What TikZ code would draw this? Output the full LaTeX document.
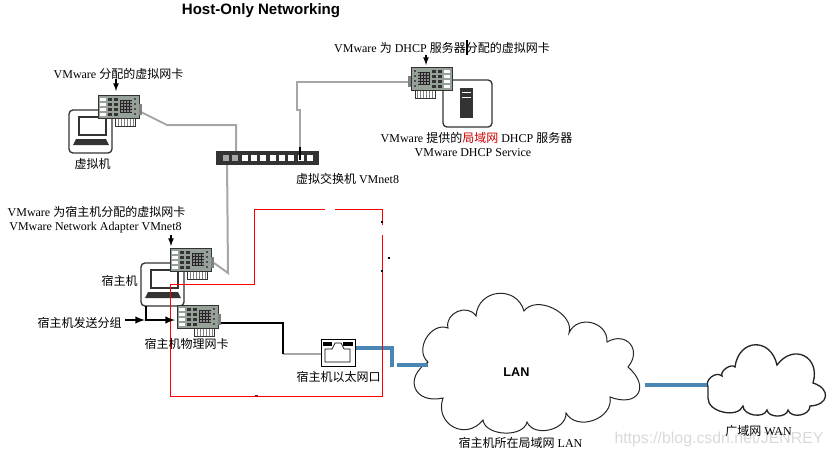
\documentclass[tikz,border=0pt]{standalone}
\usepackage{fontspec}
\setmainfont{Liberation Serif}
\setsansfont{Liberation Sans}
\newfontfamily\cjk{Noto Sans CJK SC}
\definecolor{cardgray}{HTML}{96A298}
\definecolor{linkgray}{HTML}{A6A6A6}
\definecolor{linkblue}{HTML}{4A86B4}
\definecolor{darkbox}{HTML}{333333}
\tikzset{
  x=0.75pt, y=-0.75pt,
  label/.style={inner sep=0pt, font=\fontsize{9}{10}\selectfont},
  graylink/.style={linkgray, line width=1.5pt},
  bluelink/.style={linkblue, line width=2.6pt},
  blacklink/.style={black, line width=1.5pt},
  redline/.style={red, line width=0.75pt},
  cloudline/.style={fill=white, draw=black!85, line width=0.75pt},
  iconbox/.style={draw=darkbox, fill=white, line width=1pt, rounded corners=3pt},
  nic/.pic={
    % gold fingers
    \draw[fill=white, draw=darkbox, line width=0.4pt] (17, 20) rectangle (37, 31);
    \foreach \s in {20, 23, 26, 29, 32, 35}{
      \draw[gray, line width=0.5pt] (\s, 23) -- (\s, 31);
    }
    % card body
    \fill[cardgray] (0, 0) rectangle (41, 23);
    \draw[darkbox, line width=0.6pt] (0, 0) rectangle (41, 23);
    \fill[gray] (41, 9) rectangle (44, 20);
    \foreach \r in {3, 8, 13, 18}{
      \fill[white] (2, \r) rectangle (8, \r + 3);
      \fill[black!80] (10, \r) rectangle (14, \r + 3);
      \fill[black!80] (16, \r) rectangle (20, \r + 3);
      \fill[black!70] (36, \r) rectangle (38, \r + 2);
    }
    % chip
    \fill[black!85] (22, 5) rectangle (34, 18);
    \foreach \a in {24, 27, 30, 33}{
      \foreach \b in {7, 10, 13, 16}{
        \fill[black!45] (\a - 0.6, \b - 0.6) rectangle (\a + 0.6, \b + 0.6);
      }
    }
  },
  laptop/.pic={
    \draw[iconbox] (0, 0) rectangle (43, 43);
    \draw[draw=darkbox, fill=white, line width=1.2pt] (10, 7) rectangle (37, 25);
    \fill[darkbox] (7, 29) -- (37, 29) -- (40, 35) -- (4, 35) -- cycle;
  }
}

\begin{document}
\begin{tikzpicture}
  \useasboundingbox (0, 0) rectangle (834, 457);

  % connector ends
  \foreach \name / \x / \y in {
    vmPort/141/112, vmBend/167/125, vmDrop/236/125, swVm/236/158,
    swHost/227/158, hostBend/228/273, hostPort/214/263,
    dhcpPort/412/82, dhcpCorner/297/82, dhcpStep/297/110, dhcpJog/300/110, dhcpBlack/300/147, swDhcp/300/160,
    phyPort/217/323, phyBend/283/323, phyDrop/283/354, ethLeft/321/354,
    ethRight/355/348, blueEnd/390/348, blueTop/392/346, blueLow/392/367, lanStart/397/365, lanIn/428/365,
    lanOut/645/385, wanIn/707/385,
    sendFrom/125/320, sendTo/145/320, hostDown/146/306, hostKnee/146/320, phyIn/175/320,
    redA/170/284, redB/254/284, redC/254/209, redD/325/209, redE/335/209, redF/382/209,
    redG/382/225, redH/382/235, redI/382/396, redJ/170/396
  }{
    \coordinate (\name) at (\x, \y);
  }

  % watermark
  \node[text=black!15, inner sep=0pt, font=\sffamily\fontsize{11.9}{14}\selectfont] (mark) at (719, 439) {https://blog.csdn.net/JENREY};

  % clouds
  \draw[cloudline] (443, 398) \foreach \x / \y / \l in {
    428/362/1.95, 448/328/1.2, 476/316/1.3, 524/311/1.45, 569/333/1.05, 607/342/1.35,
    628/367/1.75, 610/397/2.2, 566/413/1.2, 527/422/1.1, 483/420/0.95, 443/398/1.55
  }{
    to[bend left=80, looseness=\l] (\x, \y)
  } -- cycle;
  \draw[cloudline, line width=1pt] (708, 398) -- (708, 387) \foreach \x / \y / \l in {
    722/376/1.15, 735/367/0.9, 777/365/1.75, 813/383/1.75, 810/406/2.1, 788/410/1.1, 767/410/1, 743/406/1, 708/398/1
  }{
    to[bend left=80, looseness=\l] (\x, \y)
  } -- cycle;

  % links
  \draw[graylink] (vmPort) -- (vmBend) -- (vmDrop) -- (swVm);
  \draw[graylink] (swHost) -- (hostBend) -- (hostPort);
  \draw[graylink] (dhcpPort) -- (dhcpCorner) -- (dhcpStep) -- (dhcpJog) -- (dhcpBlack);
  \draw[graylink] (phyDrop) -- (ethLeft);
  \draw[blacklink] (phyPort) -- (phyBend) -- (phyDrop);
  \draw[bluelink] (ethRight) -- (blueEnd);
  \draw[bluelink] (blueTop) -- (blueLow);
  \draw[bluelink] (lanStart) -- (lanIn);
  \draw[bluelink] (lanOut) -- (wanIn);

  % switch
  \fill[darkbox] (216, 151) rectangle (319, 165);
  \foreach \i / \c in {0/linkgray, 1/linkgray, 2/white, 3/white, 4/white, 5/white, 6/white, 7/white, 8/white, 9/white}{
    \fill[\c] (223 + 9.33 * \i, 155) rectangle (229 + 9.33 * \i, 161);
  }
  \draw[blacklink] (dhcpBlack) -- (swDhcp);

  % computers
  \pic at (69, 110) {laptop};
  \pic at (141, 263) {laptop};
  \draw[iconbox] (443, 80) rectangle (492, 127);
  \fill[darkbox] (460, 88) rectangle (473, 118);
  \foreach \y in {92, 97}{
    \draw[white, line width=0.6pt] (462, \y) -- (471, \y);
  }

  % network cards
  \pic at (98, 95) {nic};
  \pic[xscale=-1] at (452, 67) {nic};
  \pic at (170, 248) {nic};
  \pic at (177, 305) {nic};

  % ethernet port
  \draw[draw=black, fill=white, line width=0.7pt] (321, 339) rectangle (355, 366);
  \fill[black] (323, 342) rectangle (332, 346);
  \fill[black] (343, 342) rectangle (353, 346);
  \draw[black, line width=0.5pt] (325, 362) -- (325, 349) -- (332, 349) -- (335, 343) -- (341, 343) -- (344, 349) -- (350, 349) -- (350, 362) -- cycle;

  % red loop
  \draw[redline] (redE) -- (redF) -- (redG);
  \draw[redline] (redH) -- (redI) -- (redJ) -- (redA) -- (redB) -- (redC) -- (redD);

  % specks
  \foreach \x / \y in {382/222, 382/271, 389/258}{
    \fill[black] (\x - 1, \y - 1) rectangle (\x + 1, \y + 1);
  }
  \fill[red!70!black] (255, 395) rectangle (258, 397);

  % black arrows
  \draw[blacklink, -latex] (sendFrom) -- (sendTo);
  \draw[blacklink, -latex] (hostDown) -- (hostKnee) -- (phyIn);
  \foreach \x / \ya / \yb in {116/79/91, 426/55/65, 171/235/246}{
    \draw[black, line width=1pt, -latex] (\x, \ya) -- (\x, \yb);
  }
  \draw[black, line width=0.8pt] (467, 40) -- (467, 55);

  % labels
  \node[label, font=\sffamily\bfseries\fontsize{11.3}{13}\selectfont] (title) at (261, 11) {Host-Only Networking};
  \node[label] (vmNicText) at (118.5, 74) {VMware {\cjk 分配的虚拟网卡}};
  \node[label] (vmText) at (92.5, 164) {\cjk 虚拟机};
  \node[label] (dhcpNicText) at (442, 48) {VMware {\cjk 为} DHCP {\cjk 服务器分配的虚拟网卡}};
  \node[label] (dhcpText) at (476.5, 138) {VMware {\cjk 提供的\textcolor{red!80!black}{局域网}} DHCP {\cjk 服务器}};
  \node[label] (dhcpService) at (473, 153) {VMware DHCP Service};
  \node[label] (switchText) at (347.5, 179) {{\cjk 虚拟交换机} VMnet8};
  \node[label] (hostNicText) at (96.5, 212) {VMware {\cjk 为宿主机分配的虚拟网卡}};
  \node[label] (adapterText) at (95.5, 228) {VMware Network Adapter VMnet8};
  \node[label] (hostText) at (119.5, 281) {\cjk 宿主机};
  \node[label] (sendText) at (79.5, 323) {\cjk 宿主机发送分组};
  \node[label] (phyText) at (186.5, 344) {\cjk 宿主机物理网卡};
  \node[label] (ethText) at (338.5, 377) {\cjk 宿主机以太网口};
  \node[label, font=\sffamily\bfseries\fontsize{9.5}{10}\selectfont] (lanText) at (516.5, 372) {LAN};
  \node[label] (lanName) at (520.5, 443) {{\cjk 宿主机所在局域网} LAN};
  \node[label] (wanName) at (758.5, 431) {{\cjk 广域网} WAN};
\end{tikzpicture}
\end{document}
